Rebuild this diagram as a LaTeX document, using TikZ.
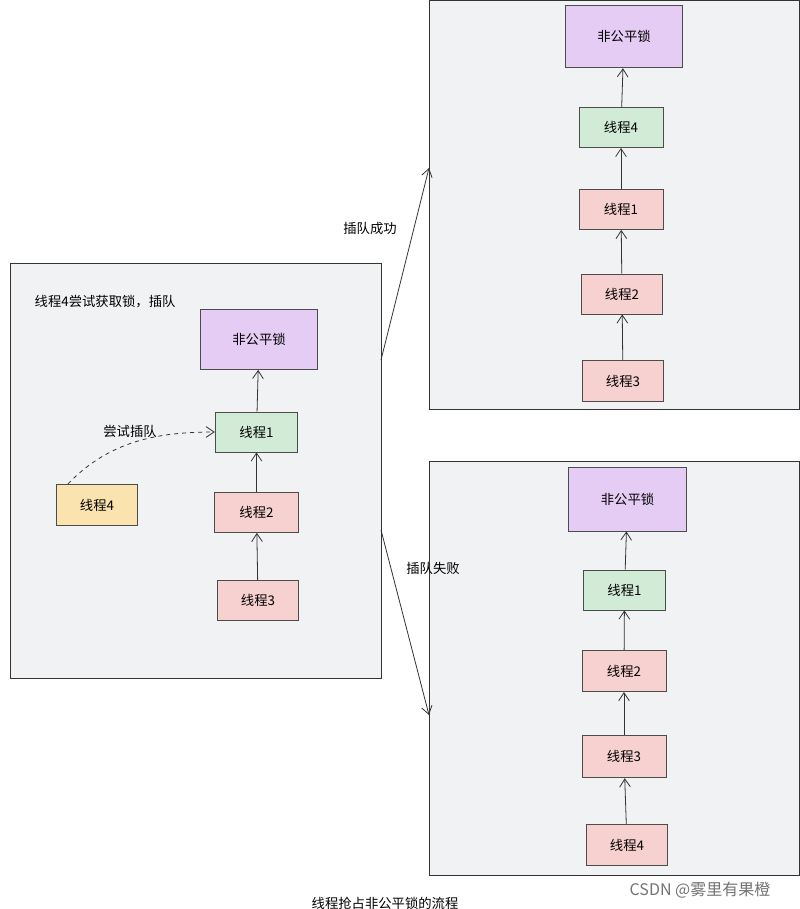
\documentclass[tikz,border=0pt]{standalone}
\usepackage{fontspec}
\setmainfont{Noto Sans CJK SC}
\usetikzlibrary{arrows.meta}
\definecolor{pu}{HTML}{E4CCF4}
\definecolor{gr}{HTML}{D2EBD6}
\definecolor{rd}{HTML}{F7D0D0}
\definecolor{or}{HTML}{FBE3B0}
\definecolor{pan}{HTML}{F1F2F4}
\begin{document}
\begin{tikzpicture}[x=0.75pt,y=-0.75pt,
 panel/.style={draw=black!80,fill=pan,line width=0.7pt},
 bx/.style={draw=black!70,line width=0.6pt,font=\fontsize{10}{12}\selectfont},
 ar/.style={-{Straight Barb[length=6pt,width=8pt]},black!80,line width=0.6pt},
 lb/.style={font=\fontsize{10}{12}\selectfont}]
\useasboundingbox[fill=white] (0,0) rectangle (799,909);
\draw[panel] (10,263) rectangle (381,678);
\draw[panel] (429,0) rectangle (799,409);
\draw[panel] (429,461) rectangle (799,875);
\node[lb,anchor=west] (t) at (30,302) {线程4尝试获取锁，插队};
% left
\node[bx,fill=pu,minimum width=88pt,minimum height=45pt] (lk) at (259,339.5) {非公平锁};
\node[bx,fill=gr,minimum width=62pt,minimum height=30pt] (l1) at (256.5,432) {线程1};
\node[bx,fill=rd,minimum width=63pt,minimum height=30pt] (l2) at (256.5,512.5) {线程2};
\node[bx,fill=rd,minimum width=61pt,minimum height=30pt] (l3) at (258,600.5) {线程3};
\node[bx,fill=or,minimum width=61pt,minimum height=31pt] (l4) at (97,505) {线程4};
\draw[ar] (l3) -- (l2);
\draw[ar] (l2) -- (l1);
\draw[ar] (l1) -- (lk);
\draw[ar,dashed] (l4.north west) ++(12,0) coordinate (c4) .. controls (110,440) and (160,432) .. (l1.west);
\node[lb] (dl) at (130,431) {尝试插队};
% top right
\node[bx,fill=pu,minimum width=88pt,minimum height=47pt] (ak) at (624,36.5) {非公平锁};
\node[bx,fill=gr,minimum width=63pt,minimum height=30pt] (a4) at (621,127.5) {线程4};
\node[bx,fill=rd,minimum width=63pt,minimum height=30pt] (a1) at (621,209.5) {线程1};
\node[bx,fill=rd,minimum width=61pt,minimum height=30pt] (a2) at (622,294) {线程2};
\node[bx,fill=rd,minimum width=61pt,minimum height=31pt] (a3) at (623,381) {线程3};
\draw[ar] (a3) -- (a2);
\draw[ar] (a2) -- (a1);
\draw[ar] (a1) -- (a4);
\draw[ar] (a4) -- (ak);
% bottom right
\node[bx,fill=pu,minimum width=88pt,minimum height=48pt] (bk) at (627.5,499) {非公平锁};
\node[bx,fill=gr,minimum width=62pt,minimum height=30pt] (b1) at (624.5,590) {线程1};
\node[bx,fill=rd,minimum width=63pt,minimum height=31pt] (b2) at (624,671) {线程2};
\node[bx,fill=rd,minimum width=63pt,minimum height=32pt] (b3) at (624,756.5) {线程3};
\node[bx,fill=rd,minimum width=61pt,minimum height=31pt] (b4) at (627,845) {线程4};
\draw[ar] (b4) -- (b3);
\draw[ar] (b3) -- (b2);
\draw[ar] (b2) -- (b1);
\draw[ar] (b1) -- (bk);
% transitions
\coordinate (s1) at (381,360); \coordinate (e1) at (429,168);
\coordinate (s2) at (381,530); \coordinate (e2) at (429,715);
\draw[ar] (s1) -- (e1);
\draw[ar] (s2) -- (e2);
\node[lb] (ok) at (370,228) {插队成功};
\node[lb] (no) at (433,568) {插队失败};
\node[lb] (cap) at (385,903) {线程抢占非公平锁的流程};
\node[font=\fontsize{12}{14}\selectfont,text=black!55] (w) at (700,890) {CSDN @雾里有果橙};
\end{tikzpicture}
\end{document}
